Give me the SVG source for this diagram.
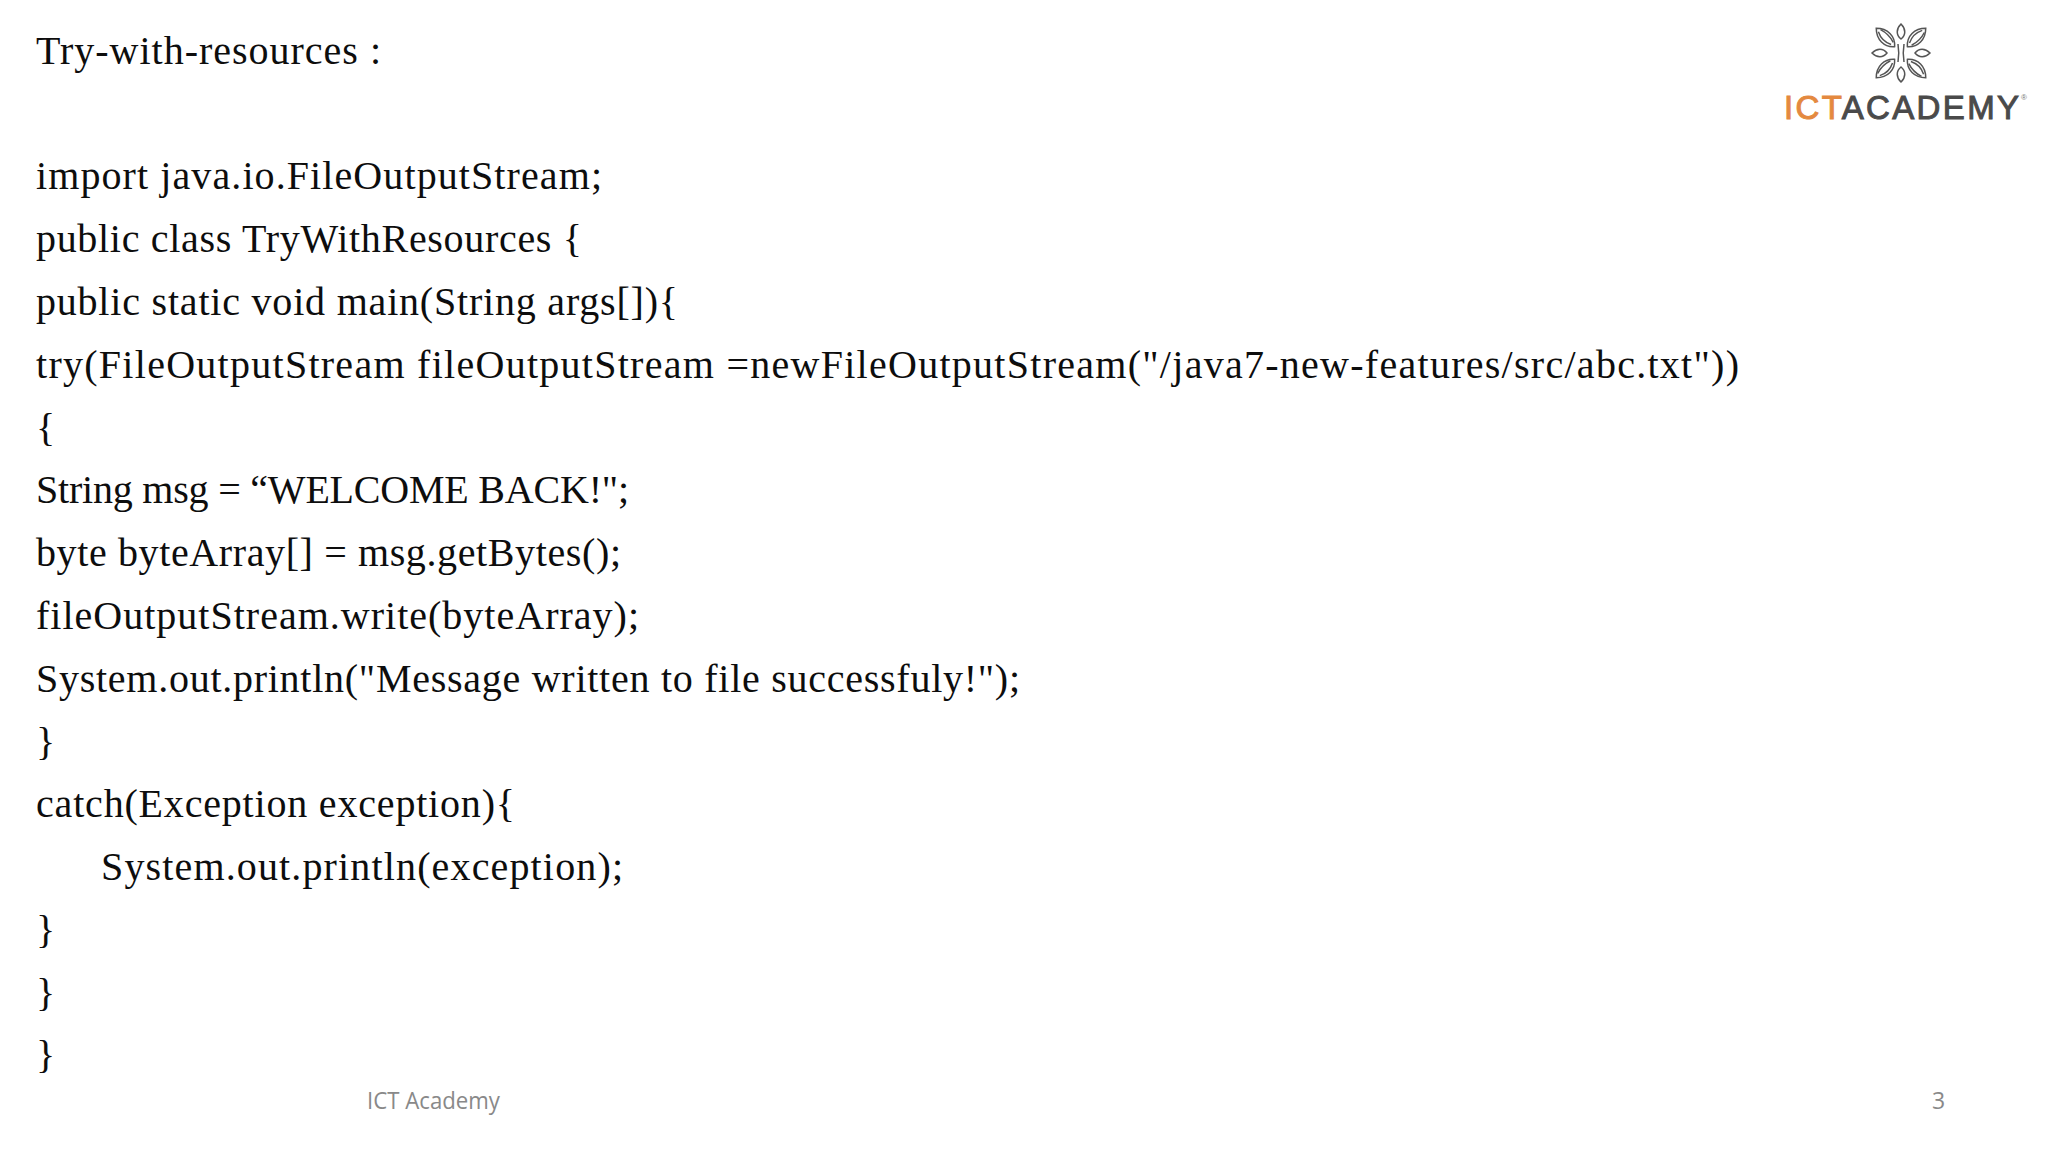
<svg xmlns="http://www.w3.org/2000/svg" width="2048" height="1152" viewBox="0 0 2048 1152">
<style>
.c{font-family:"Liberation Serif","DejaVu Serif",serif;font-size:40px;fill:#0d0d0d}
.f{font-family:"Open Sans","Noto Sans",sans-serif;font-size:23px;fill:#898989}
.l{font-family:"Liberation Sans",Arial,sans-serif;font-size:33px;font-weight:400;stroke-width:1}
.leaf{fill:none;stroke:#555;stroke-width:1.5}
</style>
<defs>
<g id="big"><path class="leaf" d="M0-9C-8-16-8-27 0-35C8-27 8-16 0-9Z"/><path class="leaf" d="M-1-13C-4-19-4-25-1-31M2-13C4-19 4-25 2-31"/></g>
<path id="small" class="leaf" d="M0-14C5-18 5-24 0-29C-5-24-5-18 0-14Z"/>
</defs>
<rect width="2048" height="1152" fill="#fff"/>
<g id="code">
<text class="c" x="36" y="64" textLength="345">Try-with-resources :</text>
<text class="c" x="36" y="189" textLength="566">import java.io.FileOutputStream;</text>
<text class="c" x="36" y="252" textLength="546">public class TryWithResources {</text>
<text class="c" x="36" y="315" textLength="642">public static void main(String args[]){</text>
<text class="c" x="36" y="378" textLength="1703">try(FileOutputStream fileOutputStream =newFileOutputStream("/java7-new-features/src/abc.txt"))</text>
<text class="c" x="36" y="441">{</text>
<text class="c" x="36" y="503" textLength="593">String msg = “WELCOME BACK!";</text>
<text class="c" x="36" y="566" textLength="585">byte byteArray[] = msg.getBytes();</text>
<text class="c" x="36" y="629" textLength="603">fileOutputStream.write(byteArray);</text>
<text class="c" x="36" y="692" textLength="984">System.out.println("Message written to file successfuly!");</text>
<text class="c" x="36" y="755">}</text>
<text class="c" x="36" y="817" textLength="479">catch(Exception exception){</text>
<text class="c" x="101" y="880" textLength="522">System.out.println(exception);</text>
<text class="c" x="36" y="943">}</text>
<text class="c" x="36" y="1006">}</text>
<text class="c" x="36" y="1068">}</text>
</g>
<g id="footer">
<text class="f" x="367" y="1109" textLength="133" lengthAdjust="spacingAndGlyphs">ICT Academy</text>
<text class="f" x="1932" y="1109">3</text>
</g>
<g id="logo">
<g transform="translate(1901 53)">
<use href="#big" transform="rotate(45)"/><use href="#big" transform="rotate(135)"/><use href="#big" transform="rotate(225)"/><use href="#big" transform="rotate(315)"/>
<use href="#small"/><use href="#small" transform="rotate(90)"/><use href="#small" transform="rotate(180)"/><use href="#small" transform="rotate(270)"/>
<path class="leaf" d="M-3-9C-2-3-2 3-3 9M3-9C2-3 2 3 3 9"/>
</g>
<text class="l" x="1784" y="119" textLength="235"><tspan fill="#e4893f" stroke="#e4893f">ICT</tspan><tspan fill="#4a4a4a" stroke="#4a4a4a">ACADEMY</tspan></text>
<text x="2021" y="100" font-family="Liberation Sans,sans-serif" font-size="8" fill="#777">®</text>
</g>
</svg>
